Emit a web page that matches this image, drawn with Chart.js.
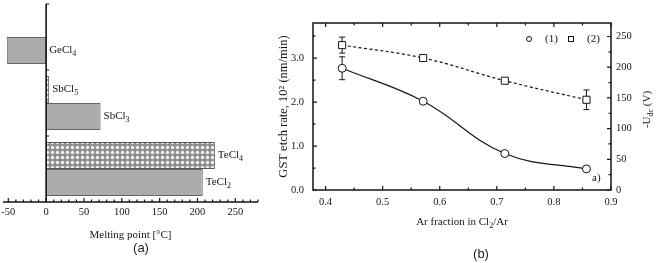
<!DOCTYPE html>
<html>
<head>
<meta charset="utf-8">
<script src="https://cdn.jsdelivr.net/npm/chart.js@4.4.0/dist/chart.umd.min.js"></script>
<style>
  html, body { margin: 0; padding: 0; background: #fff; }
  body { width: 660px; height: 263px; position: relative; overflow: hidden; }
  #boxA { position: absolute; left: 0; top: 0; width: 270px; height: 263px; }
  #boxB { position: absolute; left: 270px; top: 0; width: 390px; height: 263px; }
  .cap { position: absolute; font-family: "Liberation Sans", Arial, sans-serif; font-size: 13px; color: #222; transform: translate(-50%, -50%); }
</style>
</head>
<body>
<div id="boxA"><canvas id="chartA"></canvas></div>
<div id="boxB"><canvas id="chartB"></canvas></div>
<div class="cap" style="left:141px; top:247px;">(a)</div>
<div class="cap" style="left:481px; top:253px;">(b)</div>
<script>
// (a) melting points, one group per element: upper slot / lower slot
const elementGroups = ['Ge', 'Sb', 'Te'];
const upperNames = [null, 'SbCl5', 'TeCl4'];
const upperMelt = [null, 4, 223];
const lowerNames = ['GeCl4', 'SbCl3', 'TeCl2'];
const lowerMelt = [-52, 72, 207];

// (b) etch rate (1) and dc bias (2) vs Ar fraction
const arFraction = [0.429, 0.571, 0.714, 0.857];
const etchRate = [2.77, 2.02, 0.83, 0.48];
const etchErr = [0.26, 0, 0, 0];
const biasVoltage = [236, 215, 178, 147];
const biasErr = [13, 0, 0, 16];

const SERIF = '"Liberation Serif", "Times New Roman", serif';
const INK = '#151515';
Chart.defaults.font.family = SERIF;
Chart.defaults.color = INK;

// text with sub/superscripts
function richText(ctx, parts, x, y, size, align, angle) {
    ctx.save();
    ctx.translate(x, y);
    if (angle) ctx.rotate(angle);
    ctx.textBaseline = 'middle';
    ctx.textAlign = 'left';
    ctx.fillStyle = INK;
    const small = Math.round(size * 0.72);
    let w = 0;
    parts.forEach(p => {
        ctx.font = (p.sub || p.sup ? small : size) + 'px ' + SERIF;
        w += ctx.measureText(p.t).width;
    });
    let cx = align === 'center' ? -w / 2 : 0;
    parts.forEach(p => {
        ctx.font = (p.sub || p.sup ? small : size) + 'px ' + SERIF;
        const dy = p.sub ? size * 0.32 : (p.sup ? -size * 0.35 : 0);
        ctx.fillText(p.t, cx, dy);
        cx += ctx.measureText(p.t).width;
    });
    ctx.restore();
}

function splitFormula(name) {
    const m = name.match(/^(.*?)(\d+)$/);
    return m ? [{ t: m[1] }, { t: m[2], sub: true }] : [{ t: name }];
}

// dotted mesh fill for the upper bars
const meshFill = (() => {
    const c = document.createElement('canvas');
    c.width = 5; c.height = 5;
    const g = c.getContext('2d');
    g.fillStyle = '#8c8c8c';
    g.fillRect(0, 0, 5, 5);
    g.fillStyle = '#f2f2f2';
    g.beginPath();
    g.arc(2.5, 2.5, 1.7, 0, Math.PI * 2);
    g.fill();
    return g.createPattern(c, 'repeat');
})();

const barAxisPlugin = {
    id: 'barAxis',
    afterDatasetsDraw(chart) {
        const { ctx, chartArea: area, scales: { x, y } } = chart;
        const x0 = x.getPixelForValue(0);
        ctx.save();
        ctx.strokeStyle = INK;
        ctx.lineWidth = 1.6;
        ctx.beginPath();
        ctx.moveTo(x0, area.top);
        ctx.lineTo(x0, area.bottom);
        ctx.moveTo(area.left, area.bottom);
        ctx.lineTo(area.right, area.bottom);
        ctx.stroke();

        // small ticks on the zero line at the group borders
        ctx.lineWidth = 1.2;
        const half = (y.getPixelForValue(1) - y.getPixelForValue(0)) / 2;
        ctx.beginPath();
        for (let i = 0; i < elementGroups.length; i++) {
            const py = y.getPixelForValue(i) - half;
            ctx.moveTo(x0, py);
            ctx.lineTo(x0 + 3, py);
        }
        // x minor / major ticks
        for (let v = -50; v <= 280; v += 10) {
            const px = x.getPixelForValue(v);
            ctx.moveTo(px, area.bottom);
            ctx.lineTo(px, area.bottom - (v % 50 === 0 ? 4 : 2.5));
        }
        ctx.stroke();
        ctx.restore();

        chart.data.datasets.forEach((ds, di) => {
            chart.getDatasetMeta(di).data.forEach((bar, i) => {
                const name = ds.names[i];
                if (!name) return;
                richText(ctx, splitFormula(name), Math.max(bar.x, x0) + 3, bar.y, 11, 'left');
            });
        });

        richText(ctx, [{ t: 'Melting point [°C]' }], (area.left + area.right) / 2, 235, 11, 'center');
    }
};

new Chart(document.getElementById('chartA'), {
    type: 'bar',
    data: {
        labels: elementGroups,
        datasets: [
            {
                data: upperMelt,
                names: upperNames,
                backgroundColor: meshFill,
                borderColor: '#555',
                borderWidth: 1,
                borderSkipped: false
            },
            {
                data: lowerMelt,
                names: lowerNames,
                backgroundColor: '#ababab',
                borderColor: '#666',
                borderWidth: 1,
                borderSkipped: false
            }
        ]
    },
    options: {
        indexAxis: 'y',
        responsive: true,
        maintainAspectRatio: false,
        animation: false,
        categoryPercentage: 0.82,
        barPercentage: 1,
        layout: { padding: { left: 3, right: 12, top: 4, bottom: 0 } },
        plugins: { legend: { display: false }, tooltip: { enabled: false } },
        scales: {
            x: {
                type: 'linear',
                min: -57,
                max: 280,
                grid: { display: false, drawTicks: false },
                border: { display: false },
                ticks: { stepSize: 50, includeBounds: false, padding: 4, font: { size: 10.5 } },
                afterFit(s) { s.height = 61; s.paddingLeft = 0; s.paddingRight = 0; }
            },
            y: { display: false }
        }
    },
    plugins: [barAxisPlugin]
});

// (b) frame, inward ticks, error bars, legend and rich titles
const linePlotPlugin = {
    id: 'linePlot',
    beforeDatasetsDraw(chart) {
        const { ctx, scales } = chart;
        ctx.save();
        ctx.strokeStyle = INK;
        ctx.lineWidth = 1;
        chart.data.datasets.forEach((ds, di) => {
            const ys = scales[ds.yAxisID];
            ds.errors.forEach((e, i) => {
                if (!e) return;
                const px = scales.x.getPixelForValue(ds.data[i].x);
                const top = ys.getPixelForValue(ds.data[i].y + e);
                const bot = ys.getPixelForValue(ds.data[i].y - e);
                ctx.beginPath();
                ctx.moveTo(px, top); ctx.lineTo(px, bot);
                ctx.moveTo(px - 3, top); ctx.lineTo(px + 3, top);
                ctx.moveTo(px - 3, bot); ctx.lineTo(px + 3, bot);
                ctx.stroke();
            });
        });
        ctx.restore();
    },
    afterDatasetsDraw(chart) {
        const { ctx, chartArea: a, scales: { x, y, y2 } } = chart;
        ctx.save();
        ctx.strokeStyle = INK;
        ctx.lineWidth = 1.5;
        ctx.strokeRect(a.left, a.top, a.right - a.left, a.bottom - a.top);
        ctx.lineWidth = 1.2;
        ctx.beginPath();
        for (let k = 0; k <= 10; k++) {
            const px = x.getPixelForValue(0.4 + k * 0.05);
            const len = k % 2 === 0 ? 4 : 2.5;
            ctx.moveTo(px, a.bottom); ctx.lineTo(px, a.bottom - len);
            ctx.moveTo(px, a.top); ctx.lineTo(px, a.top + len);
        }
        for (let k = 0; k <= 7; k++) {
            const py = y.getPixelForValue(k * 0.5);
            ctx.moveTo(a.left, py); ctx.lineTo(a.left + (k % 2 === 0 ? 4 : 2.5), py);
        }
        for (let k = 0; k <= 10; k++) {
            const py = y2.getPixelForValue(k * 25);
            ctx.moveTo(a.right, py); ctx.lineTo(a.right - (k % 2 === 0 ? 4 : 2.5), py);
        }
        ctx.stroke();

        // legend
        ctx.lineWidth = 1;
        ctx.beginPath();
        ctx.arc(259, 39, 2.5, 0, Math.PI * 2);
        ctx.stroke();
        ctx.strokeRect(298.5, 36.5, 5, 5);
        ctx.restore();
        richText(ctx, [{ t: '(1)' }], 275, 39, 11, 'left');
        richText(ctx, [{ t: '(2)' }], 317, 39, 11, 'left');
        richText(ctx, [{ t: 'a)' }], 322, 178, 11, 'left');

        richText(ctx, [{ t: 'Ar fraction in Cl' }, { t: '2', sub: true }, { t: '/Ar' }],
            (a.left + a.right) / 2, 222, 11, 'center');
        richText(ctx, [{ t: '-U' }, { t: 'dc', sub: true }, { t: ' (V)' }],
            377, (a.top + a.bottom) / 2 + 3, 11, 'center', -Math.PI / 2);
    }
};

new Chart(document.getElementById('chartB'), {
    type: 'line',
    data: {
        datasets: [
            {
                data: arFraction.map((v, i) => ({ x: v, y: etchRate[i] })),
                errors: etchErr,
                yAxisID: 'y',
                borderColor: INK,
                borderWidth: 1.2,
                tension: 0.4,
                pointStyle: 'circle',
                pointRadius: 4,
                pointBorderWidth: 1,
                pointBorderColor: INK,
                pointBackgroundColor: '#fff'
            },
            {
                data: arFraction.map((v, i) => ({ x: v, y: biasVoltage[i] })),
                errors: biasErr,
                yAxisID: 'y2',
                borderColor: INK,
                borderWidth: 1.2,
                borderDash: [3, 2.5],
                tension: 0.4,
                pointStyle: 'rect',
                pointRadius: 5,
                pointBorderWidth: 1,
                pointBorderColor: INK,
                pointBackgroundColor: '#fff'
            }
        ]
    },
    options: {
        responsive: true,
        maintainAspectRatio: false,
        animation: false,
        layout: { padding: { left: 0, right: 0, top: 23, bottom: 0 } },
        plugins: { legend: { display: false }, tooltip: { enabled: false } },
        scales: {
            x: {
                type: 'linear',
                min: 0.378,
                max: 0.9,
                grid: { display: false, drawTicks: false },
                border: { display: false },
                ticks: { stepSize: 0.1, includeBounds: false, padding: 6, font: { size: 10.5 },
                    callback: v => v.toFixed(1) },
                afterFit(s) { s.height = 73; }
            },
            y: {
                position: 'left',
                min: 0,
                max: 3.8,
                grid: { display: false, drawTicks: false },
                border: { display: false },
                ticks: { stepSize: 1, includeBounds: false, padding: 9, font: { size: 10.5 },
                    callback: v => v.toFixed(1) },
                title: { display: true, text: 'GST etch rate, 10² (nm/min)', font: { size: 12.5 },
                    padding: { top: 6, bottom: 0 } },
                afterFit(s) { s.width = 43; }
            },
            y2: {
                position: 'right',
                min: 0,
                max: 272,
                grid: { display: false, drawTicks: false },
                border: { display: false },
                ticks: { stepSize: 50, includeBounds: false, padding: 5, font: { size: 10.5 } },
                afterFit(s) { s.width = 49; }
            }
        }
    },
    plugins: [linePlotPlugin]
});
</script>
</body>
</html>
